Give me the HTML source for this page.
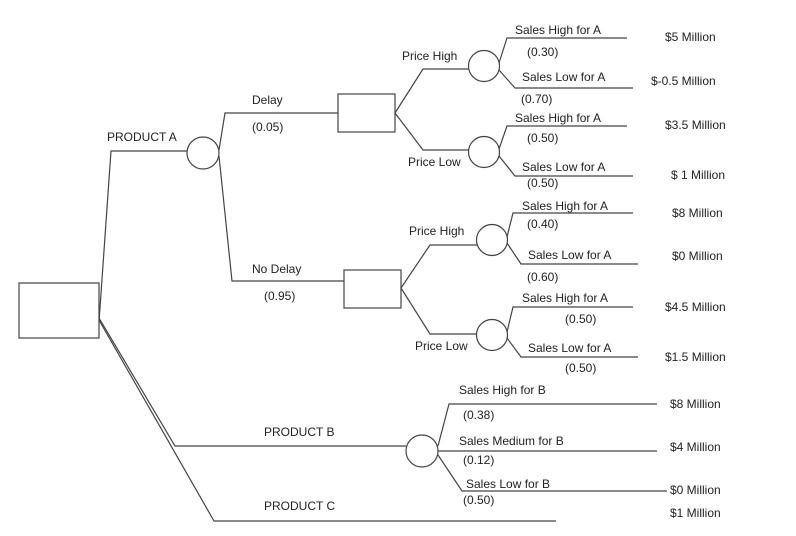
<!DOCTYPE html>
<html><head><meta charset="utf-8"><style>
html,body{margin:0;padding:0;background:#fff;}
svg{display:block;}
text{font-family:"Liberation Sans",Arial,sans-serif;font-size:12px;fill:#222;}
</style></head><body>
<svg width="796" height="536" viewBox="0 0 796 536" xmlns="http://www.w3.org/2000/svg">
<g fill="none" stroke="#444" stroke-width="1.2">
<rect x="19" y="283" width="80" height="55" fill="#fff"/>
<!-- product A -->
<polyline points="99,322 111,151 187,151"/>
<circle cx="203" cy="153" r="16" fill="#fff"/>
<polyline points="219,150 225,113 338,113"/>
<polyline points="219,156 232,281 344,281"/>
<rect x="338" y="94" width="57" height="38" fill="#fff"/>
<rect x="344" y="270" width="57" height="38" fill="#fff"/>
<!-- delay box branches -->
<polyline points="395,113 423,69 469,69"/>
<polyline points="395,113 423,150 469,150"/>
<circle cx="484" cy="66" r="15.5" fill="#fff"/>
<circle cx="484" cy="152" r="15.5" fill="#fff"/>
<polyline points="499,63 507,38 627,38"/>
<polyline points="499,70 515,88 633,88"/>
<polyline points="499,149 507,126 627,126"/>
<polyline points="499,156 515,176 633,176"/>
<!-- no delay box branches -->
<polyline points="401,288 430,245 477,245"/>
<polyline points="401,288 430,334 477,334"/>
<circle cx="492" cy="240" r="15.5" fill="#fff"/>
<circle cx="492" cy="335" r="15.5" fill="#fff"/>
<polyline points="507,237 513,213 633,213"/>
<polyline points="507,243 521,264 638,264"/>
<polyline points="507,332 513,307 633,307"/>
<polyline points="507,338 521,357 638,357"/>
<!-- product B -->
<polyline points="99,318 175,446 406,446"/>
<circle cx="422" cy="451" r="16" fill="#fff"/>
<polyline points="438,446 449,404 657,404"/>
<polyline points="438,451 657,451"/>
<polyline points="438,455 462,491 667,491"/>
<!-- product C -->
<polyline points="99,320 214,521 556,521"/>
</g>
<text x="107" y="141">PRODUCT A</text>
<text x="252" y="104">Delay</text>
<text x="252" y="131">(0.05)</text>
<text x="252" y="273">No Delay</text>
<text x="264" y="300">(0.95)</text>
<text x="402" y="60">Price High</text>
<text x="408" y="166">Price Low</text>
<text x="409" y="235">Price High</text>
<text x="415" y="350">Price Low</text>
<text x="515" y="34">Sales High for A</text>
<text x="527" y="56">(0.30)</text>
<text x="522" y="81">Sales Low for A</text>
<text x="521" y="103">(0.70)</text>
<text x="515" y="122">Sales High for A</text>
<text x="527" y="142">(0.50)</text>
<text x="522" y="171">Sales Low for A</text>
<text x="527" y="187">(0.50)</text>
<text x="522" y="210">Sales High for A</text>
<text x="527" y="228">(0.40)</text>
<text x="528" y="259">Sales Low for A</text>
<text x="527" y="281">(0.60)</text>
<text x="522" y="302">Sales High for A</text>
<text x="565" y="323">(0.50)</text>
<text x="528" y="352">Sales Low for A</text>
<text x="565" y="372">(0.50)</text>
<text x="665" y="41">$5 Million</text>
<text x="651" y="85">$-0.5 Million</text>
<text x="665" y="129">$3.5 Million</text>
<text x="671" y="179">$ 1 Million</text>
<text x="672" y="217">$8 Million</text>
<text x="672" y="260">$0 Million</text>
<text x="665" y="311">$4.5 Million</text>
<text x="665" y="361">$1.5 Million</text>
<text x="264" y="436">PRODUCT B</text>
<text x="264" y="510">PRODUCT C</text>
<text x="459" y="394">Sales High for B</text>
<text x="463" y="419">(0.38)</text>
<text x="459" y="445">Sales Medium for B</text>
<text x="463" y="464">(0.12)</text>
<text x="466" y="488">Sales Low for B</text>
<text x="463" y="504">(0.50)</text>
<text x="670" y="408">$8 Million</text>
<text x="670" y="451">$4 Million</text>
<text x="670" y="494">$0 Million</text>
<text x="670" y="517">$1 Million</text>
</svg>
</body></html>
